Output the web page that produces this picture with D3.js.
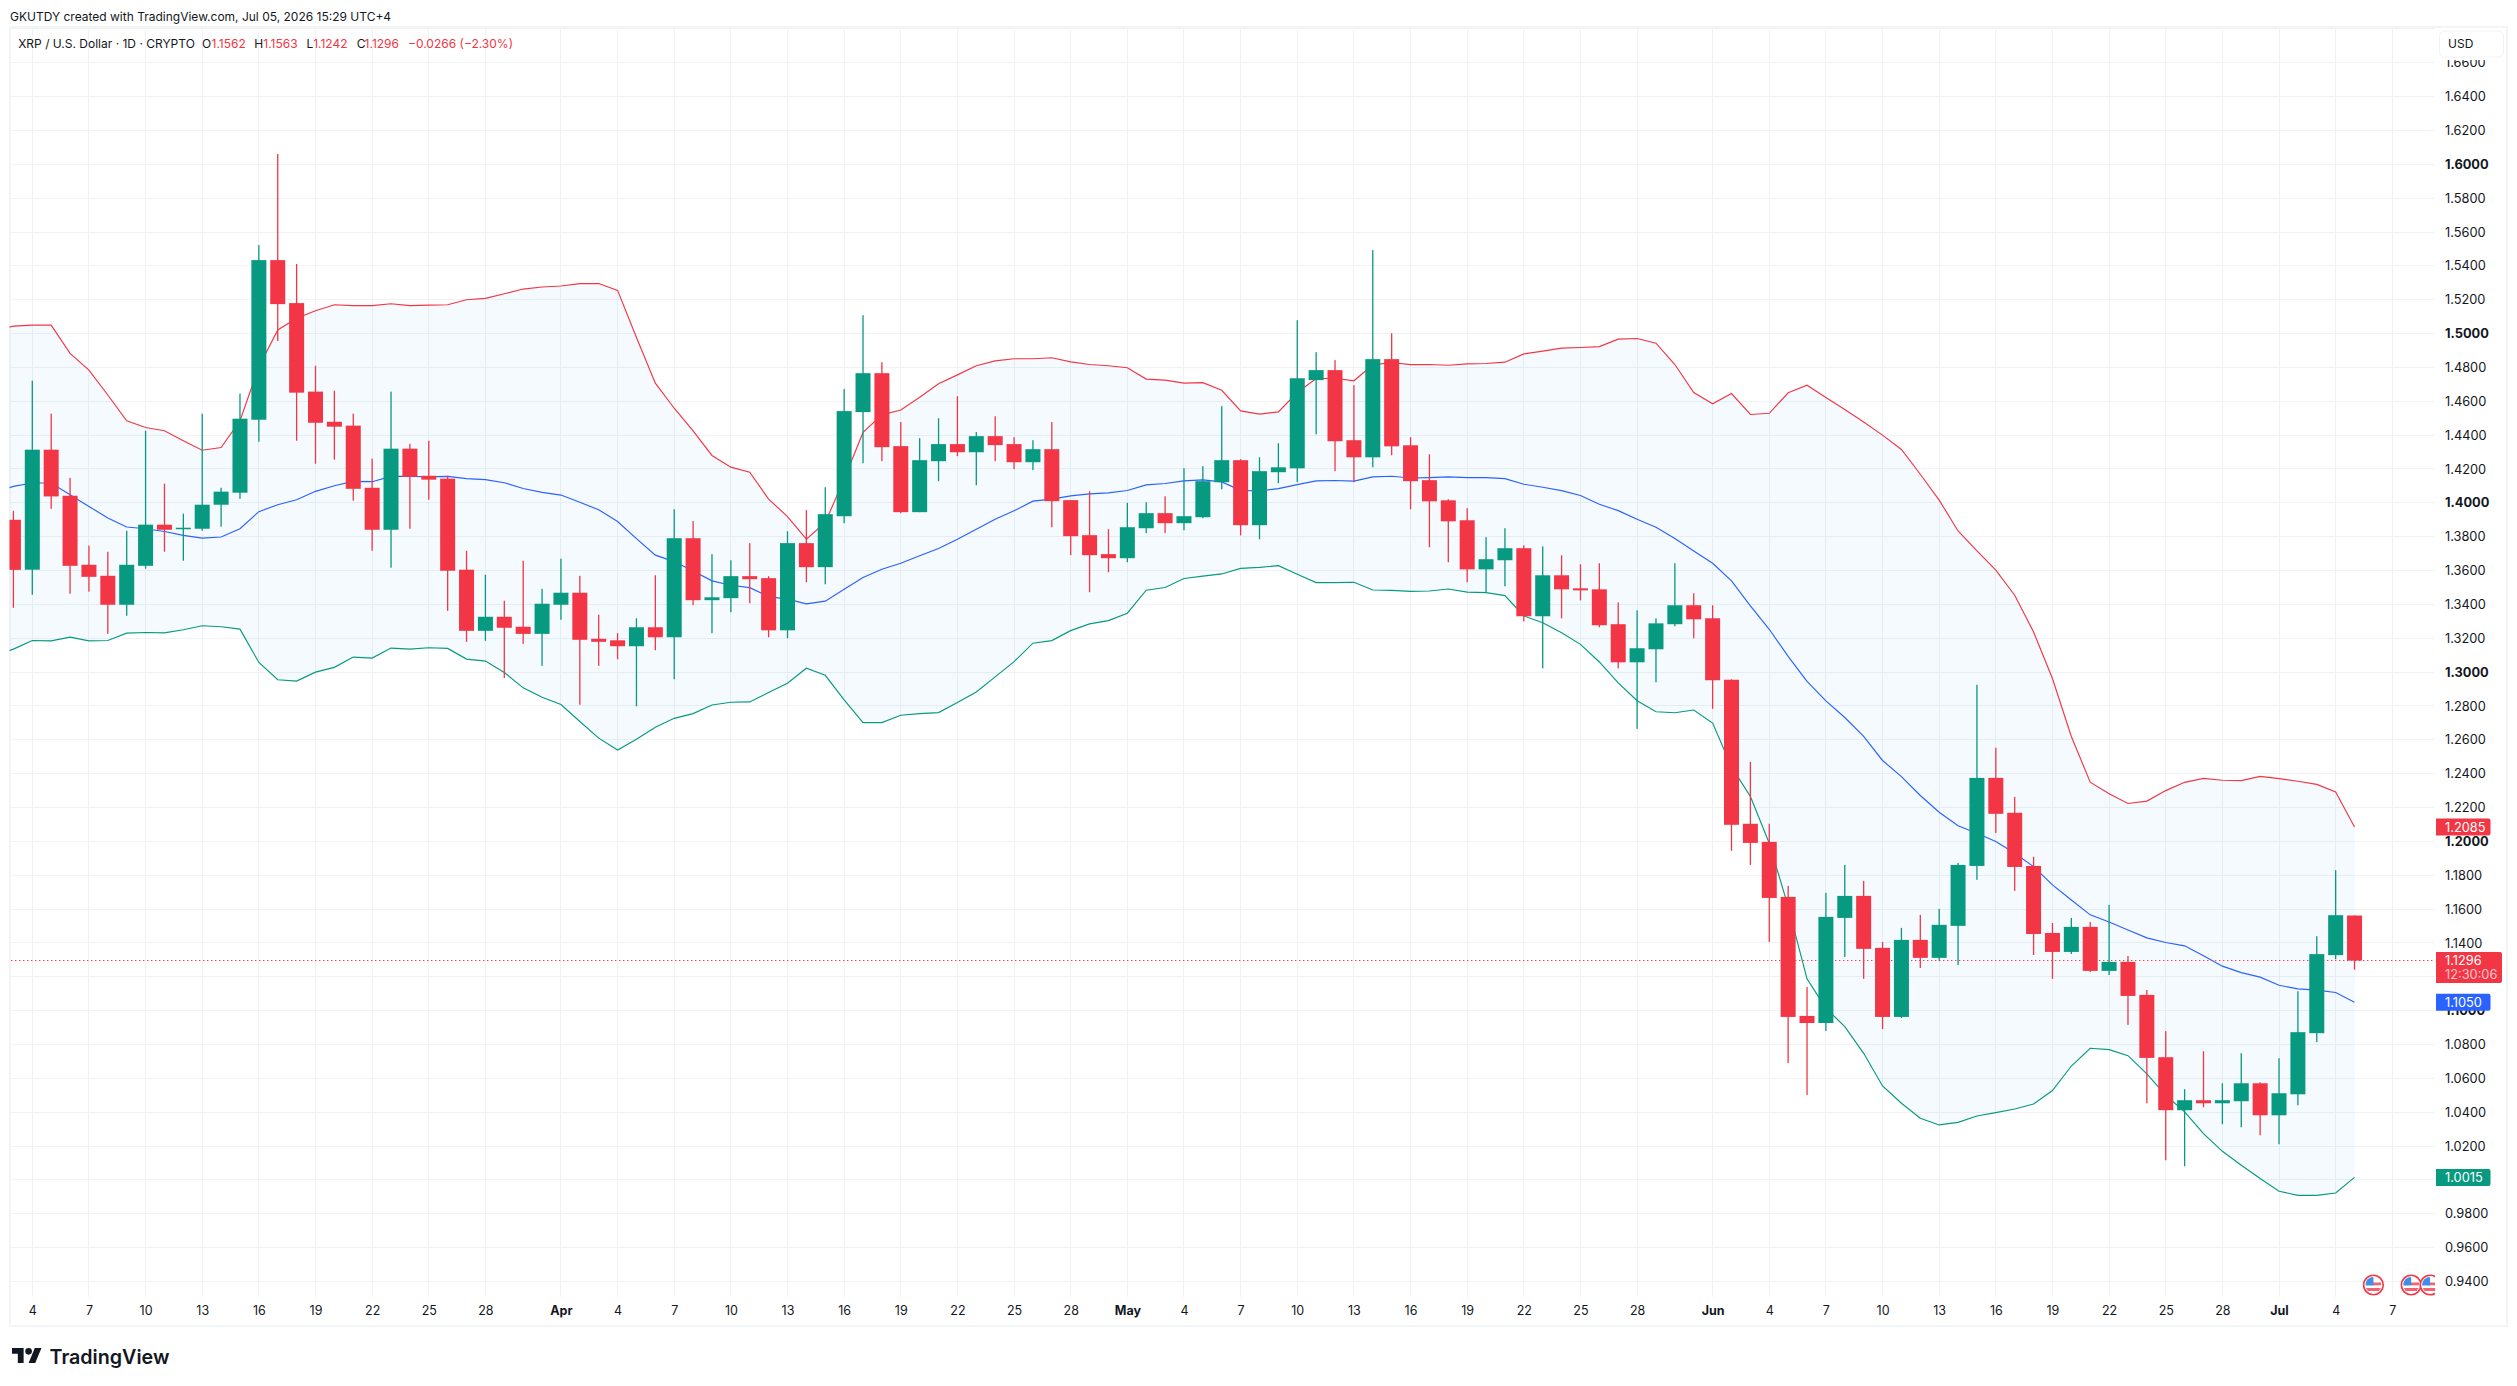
<!DOCTYPE html>
<html>
<head>
<meta charset="utf-8">
<title>XRP / U.S. Dollar daily chart</title>
<script src="https://cdn.jsdelivr.net/npm/d3@7"></script>
<style>
  html, body { margin: 0; padding: 0; background: #fff; }
  svg { display: block; }
  text { font-family: Inter, "Noto Sans", sans-serif; }
</style>
</head>
<body>
<svg id="chart" width="2517" height="1386"></svg>
<script>
// Daily candles, first session 3 March, one per calendar day
const firstSession = "2026-03-03";
const opens = [
  1.3900,1.3605,1.4314,1.4042,1.3634,1.3569,1.3398,1.3628,1.3871,1.3847,
  1.3847,1.3989,1.4060,1.4491,1.5434,1.5180,1.4657,1.4479,1.4456,1.4089,
  1.3841,1.4320,1.4160,1.4143,1.3605,1.3244,1.3327,1.3268,1.3226,1.3398,
  1.3469,1.3197,1.3188,1.3153,1.3265,1.3206,1.3791,1.3425,1.3437,1.3567,
  1.3555,1.3247,1.3762,1.3620,1.3921,1.4536,1.4766,1.4335,1.3945,1.4246,
  1.4347,1.4299,1.4394,1.4347,1.4240,1.4317,1.4016,1.3809,1.3697,1.3673,
  1.3850,1.3939,1.3880,1.3915,1.4122,1.4252,1.3868,1.4181,1.4204,1.4725,
  1.4784,1.4370,1.4269,1.4849,1.4340,1.4134,1.4015,1.3897,1.3607,1.3661,
  1.3732,1.3330,1.3572,1.3495,1.3489,1.3283,1.3058,1.3135,1.3283,1.3395,
  1.3318,1.2955,1.2104,1.1997,1.1672,1.0969,1.0927,1.1548,1.1678,1.1371,
  1.0963,1.1418,1.1312,1.1501,1.1855,1.2375,1.2169,1.1855,1.1459,1.1347,
  1.1495,1.1235,1.1288,1.1093,1.0725,1.0412,1.0471,1.0453,1.0465,1.0571,
  1.0382,1.0506,1.0867,1.1328,1.1562
];
const highs = [
  1.3953,1.4722,1.4527,1.4148,1.3747,1.3711,1.3835,1.4426,1.4113,1.3936,
  1.4527,1.4089,1.4645,1.5523,1.6061,1.5411,1.4810,1.4663,1.4527,1.4261,
  1.4657,1.4349,1.4367,1.4160,1.3717,1.3575,1.3422,1.3658,1.3492,1.3670,
  1.3569,1.3339,1.3230,1.3318,1.3572,1.3962,1.3892,1.3697,1.3661,1.3762,
  1.3567,1.3832,1.3957,1.4092,1.4672,1.5109,1.4831,1.4477,1.4382,1.4500,
  1.4630,1.4418,1.4512,1.4388,1.4370,1.4477,1.4016,1.4069,1.3844,1.4000,
  1.4004,1.4039,1.4205,1.4217,1.4571,1.4258,1.4269,1.4352,1.5079,1.4890,
  1.4843,1.4695,1.5493,1.5002,1.4388,1.4287,1.4021,1.3968,1.3797,1.3850,
  1.3749,1.3743,1.3690,1.3637,1.3643,1.3412,1.3365,1.3318,1.3643,1.3466,
  1.3395,1.2957,1.2470,1.2104,1.1737,1.1140,1.1696,1.1861,1.1767,1.1406,
  1.1489,1.1566,1.1601,1.1873,1.2925,1.2553,1.2263,1.1909,1.1518,1.1548,
  1.1524,1.1625,1.1323,1.1122,1.0879,1.0536,1.0760,1.0571,1.0749,1.0577,
  1.0719,1.1115,1.1440,1.1830,1.1563
];
const lows = [
  1.3380,1.3457,1.3965,1.3463,1.3475,1.3226,1.3333,1.3611,1.3711,1.3658,
  1.3835,1.3859,1.4024,1.4361,1.4956,1.4367,1.4231,1.4255,1.4013,1.3717,
  1.3617,1.3847,1.4018,1.3362,1.3179,1.3185,1.2966,1.3167,1.3037,1.3309,
  1.2807,1.3037,1.3076,1.2798,1.3129,1.2958,1.3395,1.3230,1.3354,1.3407,
  1.3206,1.3200,1.3531,1.3519,1.3880,1.4234,1.4246,1.3939,1.3945,1.4128,
  1.4276,1.4104,1.4246,1.4199,1.4193,1.3856,1.3691,1.3472,1.3590,1.3649,
  1.3821,1.3821,1.3838,1.3909,1.4080,1.3808,1.3785,1.4116,1.4122,1.4405,
  1.4187,1.4122,1.4210,1.4281,1.3962,1.3738,1.3649,1.3531,1.3470,1.3507,
  1.3300,1.3022,1.3318,1.3424,1.3265,1.3022,1.2665,1.2940,1.3271,1.3200,
  1.2783,1.1944,1.1861,1.1406,1.0691,1.0502,1.0880,1.1317,1.1188,1.0892,
  1.0957,1.1252,1.1294,1.1270,1.1773,1.2050,1.1708,1.1329,1.1188,1.1335,
  1.1229,1.1211,1.0916,1.0453,1.0116,1.0081,1.0429,1.0329,1.0311,1.0264,
  1.0211,1.0441,1.0814,1.1304,1.1242
];
const closes = [
  1.3604,1.4314,1.4038,1.3628,1.3563,1.3398,1.3634,1.3871,1.3841,1.3853,
  1.3989,1.4066,1.4497,1.5434,1.5174,1.4651,1.4473,1.4450,1.4083,1.3841,
  1.4320,1.4154,1.4137,1.3599,1.3244,1.3327,1.3262,1.3226,1.3404,1.3469,
  1.3191,1.3179,1.3153,1.3265,1.3206,1.3791,1.3425,1.3442,1.3567,1.3549,
  1.3247,1.3762,1.3620,1.3933,1.4542,1.4766,1.4329,1.3945,1.4252,1.4347,
  1.4299,1.4394,1.4341,1.4240,1.4317,1.4010,1.3803,1.3691,1.3673,1.3856,
  1.3939,1.3880,1.3921,1.4128,1.4252,1.3868,1.4187,1.4210,1.4736,1.4784,
  1.4364,1.4269,1.4849,1.4334,1.4128,1.4009,1.3891,1.3607,1.3667,1.3732,
  1.3330,1.3572,1.3489,1.3483,1.3277,1.3058,1.3141,1.3288,1.3395,1.3312,
  1.2952,1.2098,1.1991,1.1666,1.0963,1.0927,1.1554,1.1678,1.1365,1.0963,
  1.1418,1.1312,1.1507,1.1861,1.2375,1.2163,1.1849,1.1453,1.1347,1.1495,
  1.1235,1.1288,1.1087,1.0721,1.0412,1.0471,1.0453,1.0471,1.0571,1.0382,
  1.0512,1.0873,1.1334,1.1564,1.1296
];

// Bollinger Bands (20, 2); the series start one day before the first candle
const bandStart = "2026-03-02";
const bandUpper = [
  1.5017,
  1.5044,1.5050,1.5050,1.4883,1.4784,1.4637,1.4485,1.4445,1.4426,1.4367,
  1.4311,1.4327,1.4485,1.4804,1.5021,1.5090,1.5135,1.5170,1.5165,1.5165,
  1.5176,1.5165,1.5168,1.5170,1.5200,1.5208,1.5235,1.5263,1.5275,1.5281,
  1.5295,1.5296,1.5255,1.4977,1.4707,1.4559,1.4425,1.4280,1.4211,1.4181,
  1.4022,1.3919,1.3785,1.3884,1.4140,1.4416,1.4520,1.4548,1.4624,1.4703,
  1.4756,1.4810,1.4839,1.4851,1.4851,1.4857,1.4833,1.4817,1.4810,1.4798,
  1.4731,1.4725,1.4707,1.4710,1.4665,1.4543,1.4524,1.4537,1.4652,1.4734,
  1.4736,1.4721,1.4815,1.4829,1.4817,1.4817,1.4813,1.4821,1.4823,1.4831,
  1.4880,1.4896,1.4914,1.4918,1.4923,1.4967,1.4971,1.4943,1.4817,1.4652,
  1.4585,1.4646,1.4522,1.4529,1.4650,1.4695,1.4622,1.4551,1.4477,1.4400,
  1.4315,1.4169,1.4016,1.3834,1.3716,1.3602,1.3454,1.3237,1.2962,1.2620,
  1.2350,1.2281,1.2224,1.2238,1.2300,1.2349,1.2372,1.2361,1.2359,1.2384,
  1.2371,1.2355,1.2337,1.2292,1.2085
];
const bandMiddle = [
  1.4062,
  1.4097,1.4117,1.4117,1.4048,1.3979,1.3910,1.3857,1.3847,1.3831,1.3808,
  1.3792,1.3798,1.3847,1.3948,1.3989,1.4018,1.4068,1.4101,1.4127,1.4125,
  1.4156,1.4156,1.4154,1.4156,1.4143,1.4137,1.4119,1.4085,1.4062,1.4046,
  1.4003,1.3959,1.3890,1.3789,1.3691,1.3653,1.3598,1.3539,1.3513,1.3499,
  1.3446,1.3431,1.3403,1.3419,1.3490,1.3559,1.3608,1.3643,1.3687,1.3730,
  1.3785,1.3844,1.3903,1.3953,1.4010,1.4022,1.4041,1.4053,1.4059,1.4073,
  1.4106,1.4114,1.4130,1.4136,1.4124,1.4074,1.4070,1.4084,1.4108,1.4130,
  1.4132,1.4128,1.4153,1.4157,1.4147,1.4149,1.4153,1.4149,1.4149,1.4143,
  1.4110,1.4092,1.4072,1.4043,1.3992,1.3954,1.3903,1.3856,1.3789,1.3716,
  1.3643,1.3539,1.3391,1.3253,1.3093,1.2945,1.2830,1.2732,1.2620,1.2478,
  1.2383,1.2271,1.2172,1.2092,1.2048,1.1999,1.1930,1.1851,1.1743,1.1654,
  1.1566,1.1524,1.1477,1.1430,1.1403,1.1383,1.1324,1.1263,1.1225,1.1198,
  1.1150,1.1129,1.1121,1.1107,1.1050
];
const bandLower = [
  1.3096,
  1.3136,1.3187,1.3185,1.3207,1.3185,1.3187,1.3230,1.3234,1.3232,1.3250,
  1.3274,1.3268,1.3254,1.3057,1.2955,1.2947,1.3000,1.3028,1.3089,1.3083,
  1.3142,1.3136,1.3144,1.3140,1.3077,1.3065,1.2998,1.2907,1.2852,1.2809,
  1.2708,1.2610,1.2540,1.2603,1.2674,1.2727,1.2755,1.2806,1.2822,1.2824,
  1.2879,1.2934,1.3023,1.2981,1.2836,1.2702,1.2702,1.2745,1.2755,1.2761,
  1.2820,1.2883,1.2972,1.3062,1.3171,1.3186,1.3245,1.3285,1.3304,1.3348,
  1.3484,1.3500,1.3553,1.3567,1.3580,1.3613,1.3619,1.3629,1.3578,1.3529,
  1.3529,1.3531,1.3485,1.3483,1.3477,1.3479,1.3491,1.3473,1.3470,1.3452,
  1.3332,1.3292,1.3233,1.3164,1.3060,1.2936,1.2831,1.2766,1.2760,1.2776,
  1.2699,1.2440,1.2265,1.1989,1.1615,1.1188,1.1014,1.0906,1.0748,1.0555,
  1.0453,1.0364,1.0325,1.0340,1.0378,1.0398,1.0419,1.0449,1.0528,1.0673,
  1.0778,1.0770,1.0734,1.0627,1.0500,1.0402,1.0274,1.0169,1.0087,1.0008,
  .9933,.9909,.9909,.9923,1.0015
];

// Scale labels
const priceTicks = [
  1.68,1.66,1.64,1.62,1.60,1.58,1.56,1.54,1.52,1.50,1.48,1.46,1.44,1.42,1.40,1.38,1.36,1.34,
  1.32,1.30,1.28,1.26,1.24,1.22,1.20,1.18,1.16,1.14,1.12,1.10,1.08,1.06,1.04,1.02,1.00,.98,.96,.94
];
const timeTicks = [
  "03-04","03-07","03-10","03-13","03-16","03-19","03-22","03-25","03-28",
  "04-01","04-04","04-07","04-10","04-13","04-16","04-19","04-22","04-25","04-28",
  "05-01","05-04","05-07","05-10","05-13","05-16","05-19","05-22","05-25","05-28",
  "06-01","06-04","06-07","06-10","06-13","06-16","06-19","06-22","06-25","06-28",
  "07-01","07-04","07-07"
];
const eventDays = ["07-06","07-08","07-09"];

const upColor = "#089981", downColor = "#F23645", midColor = "#2962FF";
const gridColor = "#f0f2f5", frameColor = "#f3f4f6", inkColor = "#131722";

const parse = s => new Date(Date.UTC(+s.slice(0, 4), +s.slice(5, 7) - 1, +s.slice(8, 10)));
const inYear = s => parse("2026-" + s);

const pane = { left: 11, right: 2435, top: 28, bottom: 1297 };
const x = d3.scaleUtc().domain([inYear("03-04"), inYear("07-07")]).range([32.3, 2392.3]);
const y = d3.scaleLinear().domain([1.6, .94]).range([164.3, 1281.5]);

const svg = d3.select("#chart");
const defs = svg.append("defs");
defs.append("clipPath").attr("id", "pane-clip").append("rect")
  .attr("x", pane.left - 1.5).attr("y", pane.top)
  .attr("width", pane.right - pane.left + 1.5).attr("height", pane.bottom - pane.top);

svg.append("text").attr("x", 10).attr("y", 16)
  .attr("dominant-baseline", "central")
  .attr("font-size", 12).attr("fill", inkColor)
  .text("GKUTDY created with TradingView.com, Jul 05, 2026 15:29 UTC+4");

svg.append("rect").attr("x", 10).attr("y", 27)
  .attr("width", 2497).attr("height", 1299)
  .attr("fill", "none").attr("stroke", frameColor).attr("stroke-width", 2);

// Grid
const gridG = svg.append("g").attr("shape-rendering", "crispEdges");
gridG.selectAll("line.h").data(priceTicks).join("line").attr("class", "h")
  .attr("x1", pane.left).attr("x2", pane.right)
  .attr("y1", d => y(d)).attr("y2", d => y(d))
  .attr("stroke", gridColor);
gridG.selectAll("line.v").data(timeTicks).join("line").attr("class", "v")
  .attr("y1", pane.top).attr("y2", pane.bottom)
  .attr("x1", d => x(inYear(d))).attr("x2", d => x(inYear(d)))
  .attr("stroke", gridColor);

// Bollinger Bands
const plot = svg.append("g").attr("clip-path", "url(#pane-clip)");
const bandDays = bandUpper.map((_, i) => d3.utcDay.offset(parse(bandStart), i));
const bandRows = bandDays.map((d, i) => ({ d, u: bandUpper[i], m: bandMiddle[i], l: bandLower[i] }));
plot.append("path").datum(bandRows)
  .attr("fill", "rgba(33,150,243,0.05)")
  .attr("d", d3.area().x(r => x(r.d)).y0(r => y(r.l)).y1(r => y(r.u)));
[["u", downColor], ["m", midColor], ["l", upColor]].forEach(([key, color]) => {
  plot.append("path").datum(bandRows)
    .attr("fill", "none").attr("stroke", color).attr("stroke-width", 1.15)
    .attr("d", d3.line().x(r => x(r.d)).y(r => y(r[key])));
});

// Last price line
plot.append("line")
  .attr("x1", pane.left).attr("x2", pane.right)
  .attr("y1", y(closes[closes.length - 1])).attr("y2", y(closes[closes.length - 1]))
  .attr("stroke", downColor).attr("stroke-width", 1).attr("stroke-dasharray", "1.4 2.6");

// Candles
const candles = opens.map((o, i) => ({
  d: d3.utcDay.offset(parse(firstSession), i), o, h: highs[i], l: lows[i], c: closes[i]
}));
const candleG = plot.selectAll("g.candle").data(candles).join("g").attr("class", "candle")
  .attr("fill", c => c.c >= c.o ? upColor : downColor);
candleG.append("rect")
  .attr("x", c => x(c.d) - 0.65).attr("width", 1.3)
  .attr("y", c => y(c.h)).attr("height", c => y(c.l) - y(c.h));
candleG.append("rect")
  .attr("x", c => x(c.d) - 7.5).attr("width", 15)
  .attr("y", c => y(Math.max(c.o, c.c)))
  .attr("height", c => Math.max(1.5, Math.abs(y(c.o) - y(c.c))));

// Economic event markers on the time scale
const markers = svg.append("g").attr("clip-path", "url(#pane-clip)")
  .selectAll("g.event").data(eventDays).join("g").attr("class", "event")
  .attr("transform", d => `translate(${x(inYear(d))},1285)`);
defs.append("clipPath").attr("id", "flag-clip").append("circle").attr("r", 8);
markers.append("circle").attr("r", 9.8).attr("fill", "#fff")
  .attr("stroke", downColor).attr("stroke-width", 1.6);
const flag = markers.append("g").attr("clip-path", "url(#flag-clip)");
flag.append("rect").attr("x", -8).attr("y", -8).attr("width", 16).attr("height", 16).attr("fill", "#fff");
flag.append("rect").attr("x", -1).attr("y", -2.5).attr("width", 9).attr("height", 2.8).attr("fill", "#f2636f");
flag.append("rect").attr("x", -8).attr("y", 3).attr("width", 16).attr("height", 3).attr("fill", "#f2636f");
flag.append("rect").attr("x", -8).attr("y", -8).attr("width", 8).attr("height", 8.5).attr("fill", "#3f8fe8");

// Value tags on the price scale
const lastValue = closes[closes.length - 1];
const valueLabels = [
  { v: bandUpper[bandUpper.length - 1], color: downColor },
  { v: bandMiddle[bandMiddle.length - 1], color: midColor },
  { v: bandLower[bandLower.length - 1], color: upColor }
];

// Price scale; a tick label that would sit wholly behind a tag or the currency badge is dropped
const hiddenByTag = d =>
  y(d) < 59 ||
  valueLabels.some(t => Math.abs(y(d) - y(t.v)) < 4) ||
  (y(d) > y(lastValue) - 4 && y(d) < y(lastValue) + 18);
const priceAxis = svg.append("g").attr("transform", `translate(${pane.right},0)`)
  .call(d3.axisRight(y).tickValues(priceTicks.filter(d => !hiddenByTag(d)))
    .tickFormat(d3.format(".4f")).tickSize(0).tickPadding(10));
priceAxis.select(".domain").remove();
priceAxis.selectAll("text")
  .attr("font-family", "Inter").attr("font-size", 12.8).attr("fill", inkColor)
  .attr("font-weight", d => Math.round(d * 1000) % 100 === 0 ? 700 : 400);

// Time scale
const timeAxis = svg.append("g").attr("transform", `translate(0,${pane.bottom})`)
  .call(d3.axisBottom(x).tickValues(timeTicks.map(inYear))
    .tickFormat(d => d.getUTCDate() === 1 ? d3.utcFormat("%b")(d) : String(d.getUTCDate()))
    .tickSize(0).tickPadding(9));
timeAxis.select(".domain").remove();
timeAxis.selectAll("text")
  .attr("font-family", "Inter").attr("font-size", 12.5).attr("fill", inkColor)
  .attr("font-weight", d => d.getUTCDate() === 1 ? 700 : 400);

// Currency badge
svg.append("rect").attr("x", 2438).attr("y", 29).attr("width", 67).attr("height", 31).attr("fill", "#fff");
svg.append("rect").attr("x", 2439.5).attr("y", 31).attr("width", 64).attr("height", 26).attr("rx", 5)
  .attr("fill", "#fff").attr("stroke", "#f0f2f5");
svg.append("text").attr("x", 2448).attr("y", 43.5).attr("dominant-baseline", "central")
  .attr("font-size", 12).attr("fill", inkColor).text("USD");

const labelG = svg.selectAll("g.value").data(valueLabels).join("g").attr("class", "value")
  .attr("transform", d => `translate(2436,${y(d.v)})`);
labelG.append("path").attr("fill", d => d.color)
  .attr("d", "M0,-8.5H52.5a2,2 0 0 1 2,2V6.5a2,2 0 0 1 -2,2H0Z");
labelG.append("text").attr("x", 9).attr("y", 0).attr("dominant-baseline", "central")
  .attr("font-size", 12.8).attr("fill", "#fff").text(d => d3.format(".4f")(d.v));

const lastG = svg.append("g").attr("transform", `translate(2436,${y(lastValue)})`);
lastG.append("path").attr("fill", downColor)
  .attr("d", "M0,-8.5H64a2,2 0 0 1 2,2V20.5a2,2 0 0 1 -2,2H0Z");
lastG.append("text").attr("x", 9).attr("y", 0).attr("dominant-baseline", "central")
  .attr("font-size", 12.8).attr("fill", "#fff").text(d3.format(".4f")(lastValue));
lastG.append("text").attr("x", 9).attr("y", 14).attr("dominant-baseline", "central")
  .attr("font-size", 12.8).attr("fill", "#fff").attr("fill-opacity", 0.72).text("12:30:06");

// Legend line
const lastIdx = closes.length - 1;
const change = closes[lastIdx] - opens[lastIdx];
const fmt = d3.format(".4f");
const legend = [
  { x: 18.2, t: "XRP / U.S. Dollar · 1D · CRYPTO", c: inkColor },
  { x: 202, t: "O", c: inkColor }, { x: 211.5, t: fmt(opens[lastIdx]), c: downColor },
  { x: 254.3, t: "H", c: inkColor }, { x: 263.3, t: fmt(highs[lastIdx]), c: downColor },
  { x: 306.4, t: "L", c: inkColor }, { x: 313.2, t: fmt(lows[lastIdx]), c: downColor },
  { x: 356.7, t: "C", c: inkColor }, { x: 364.6, t: fmt(closes[lastIdx]), c: downColor },
  { x: 408, t: `\u2212${fmt(Math.abs(change))} (\u2212${d3.format(".2f")(Math.abs(change) / opens[lastIdx] * 100)}%)`, c: downColor }
];
svg.selectAll("text.legend").data(legend).join("text").attr("class", "legend")
  .attr("x", d => d.x).attr("y", 43).attr("dominant-baseline", "central")
  .attr("font-size", 12).attr("fill", d => d.c).text(d => d.t);

// Wordmark
const logo = svg.append("g").attr("transform", "translate(12,1344.7) scale(.83)").attr("fill", inkColor);
logo.append("path").attr("d", "M14 22H7V11H0V4h14v18zM28 22h-8l7.5-18h8L28 22z");
logo.append("circle").attr("cx", 20).attr("cy", 8).attr("r", 4);
svg.append("text").attr("x", 49.5).attr("y", 1356.5).attr("dominant-baseline", "central")
  .attr("font-size", 19.7).attr("font-weight", 600).attr("fill", inkColor).text("TradingView");
</script>
</body>
</html>
